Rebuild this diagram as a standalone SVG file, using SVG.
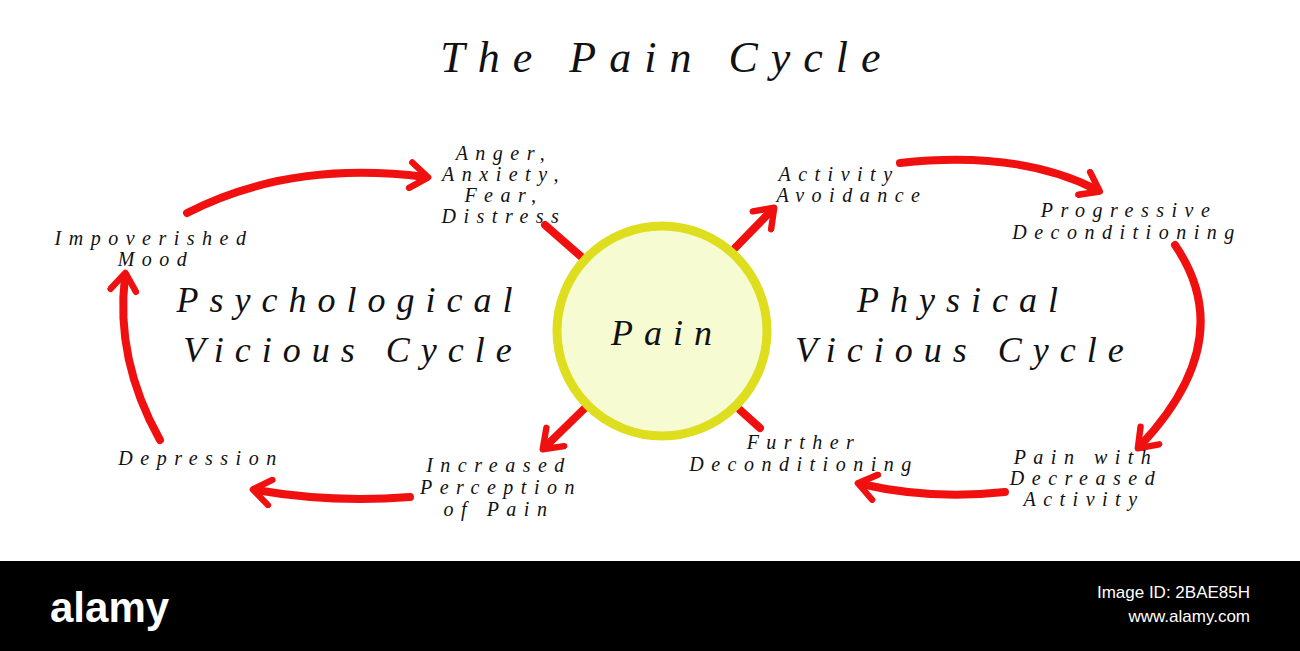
<svg xmlns="http://www.w3.org/2000/svg" width="1300" height="651" viewBox="0 0 1300 651">
<defs>
<style>
.t{font-family:"Liberation Serif","DejaVu Serif",serif;font-style:italic;fill:#111;text-anchor:middle}
.n{font-size:20px;letter-spacing:7.5px}
.b{font-size:36px;letter-spacing:11px}
.a{fill:none;stroke:#f01010;stroke-width:8;stroke-linecap:round}
.f{font-family:"Liberation Sans",sans-serif;fill:#fff}
</style>
<marker id="h" viewBox="0 0 20 20" refX="12" refY="10" markerWidth="32" markerHeight="32" markerUnits="userSpaceOnUse" orient="auto">
<path d="M3,2 L14,10 L3,18" fill="none" stroke="#f01010" stroke-width="4" stroke-linecap="round" stroke-linejoin="round"/>
</marker>
</defs>
<rect width="1300" height="651" fill="#fff"/>
<text class="t" x="667" y="72" font-size="44" letter-spacing="13">The Pain Cycle</text>
<g id="connectors">
<path class="a" d="M187,213 Q290,160 425,177" marker-end="url(#h)"/>
<path class="a" d="M160,440 Q115,360 125,276" marker-end="url(#h)"/>
<path class="a" d="M410,497 Q330,503 256,490" marker-end="url(#h)"/>
<path class="a" d="M585,260 L545,225"/>
<path class="a" d="M735,248 L772,210" marker-end="url(#h)"/>
<path class="a" d="M585,408 L545,447" marker-end="url(#h)"/>
<path class="a" d="M740,410 L760,428"/>
<path class="a" d="M900,163 Q1020,150 1097,190" marker-end="url(#h)"/>
<path class="a" d="M1175,245 Q1240,340 1140,446" marker-end="url(#h)"/>
<path class="a" d="M1005,492 Q930,500 861,484" marker-end="url(#h)"/>
</g>
<g id="pain"><circle cx="662" cy="331" r="105" fill="#f7fbd2" stroke="#dede1e" stroke-width="9"/>
<text class="t b" x="667" y="345" letter-spacing="6">Pain</text></g>
<g id="psych"><text class="t b" x="350" y="312">Psychological</text><text class="t b" x="353" y="362">Vicious Cycle</text></g>
<g id="phys"><text class="t b" x="963" y="312">Physical</text><text class="t b" x="965" y="362">Vicious Cycle</text></g>
<g id="anger"><text class="t n" x="504" y="160">Anger,</text><text class="t n" x="504" y="181">Anxiety,</text><text class="t n" x="504" y="202">Fear,</text><text class="t n" x="504" y="223">Distress</text></g>
<g id="mood"><text class="t n" x="154" y="245">Impoverished</text><text class="t n" x="156" y="266">Mood</text></g>
<g id="dep"><text class="t n" x="201" y="465">Depression</text></g>
<g id="incr"><text class="t n" x="499" y="472">Increased</text><text class="t n" x="501" y="494">Perception</text><text class="t n" x="499" y="516">of Pain</text></g>
<g id="act"><text class="t n" x="839" y="181">Activity</text><text class="t n" x="852" y="202">Avoidance</text></g>
<g id="prog"><text class="t n" x="1129" y="217">Progressive</text><text class="t n" x="1127" y="239">Deconditioning</text></g>
<g id="pwd"><text class="t n" x="1086" y="464">Pain with</text><text class="t n" x="1086" y="485">Decreased</text><text class="t n" x="1084" y="506">Activity</text></g>
<g id="further"><text class="t n" x="804" y="449">Further</text><text class="t n" x="804" y="471">Deconditioning</text></g>
<g id="footer"><rect x="0" y="561" width="1300" height="90" fill="#000"/>
<text class="f" x="50" y="622" font-size="42" font-weight="bold">alamy</text>
<text class="f" x="1250" y="598" font-size="17" text-anchor="end">Image ID: 2BAE85H</text>
<text class="f" x="1250" y="622" font-size="17" text-anchor="end">www.alamy.com</text></g>
</svg>
